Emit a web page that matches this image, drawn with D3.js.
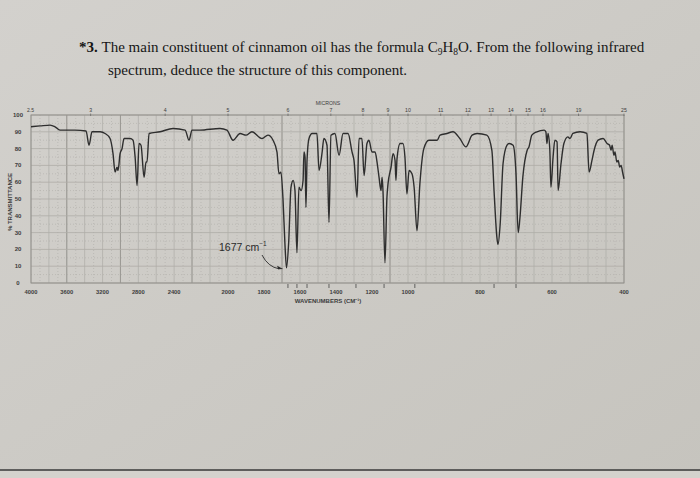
<!DOCTYPE html>
<html>
<head>
<meta charset="utf-8">
<script src="https://cdn.jsdelivr.net/npm/d3@7"></script>
<style>
  html, body { margin: 0; padding: 0; background: #cfcdc8; }
  svg { display: block; }
</style>
</head>
<body>
<div id="chart"></div>
<script>
// Spectrum: wavenumber (cm-1) and % transmittance
var wavenumbers = [4000,3899,3787,3732,3676,3508,3385,3351,3318,3228,3172,3116,3083,3060,3038,3027,3004,2982,2960,2893,2859,2836,2814,2792,2770,2736,2714,2703,2680,2557,2412,2277,2233,2200,2156,2044,2006,1972,1933,1900,1867,1811,1778,1750,1728,1717,1706,1694,1684,1675,1663,1650,1638,1628,1617,1606,1594,1583,1578,1572,1567,1561,1550,1533,1506,1494,1478,1467,1450,1439,1428,1406,1383,1361,1333,1311,1300,1283,1272,1256,1244,1228,1217,1200,1183,1172,1161,1150,1144,1139,1128,1117,1111,1094,1083,1072,1067,1061,1044,1028,1017,1006,997,989,983,975,967,956,942,919,911,892,875,856,839,822,808,781,767,761,753,750,744,736,725,719,708,700,694,689,681,669,664,656,642,622,617,614,611,606,603,597,592,586,583,575,567,556,550,542,522,503,497,489,483,472,458,447,440,436,433,428,425,420,416,412,408,404,400];
var transmittance = [93,93.5,94,93,91,91,90.5,82,90,90,89,86,77,66,69,67,77,80,86,86,85,75,58,83,82,63,72,72,89,90,92,91,85,91,91,92,91,85,89,88,90,86,88,85,78,65,66,49,24,9,24,57,61,55,18,57,55,61,78,75,45,73,86,89,89,67,77,86,82,36,88,89,76,89,89,78,73,51,86,86,64,83,85,78,78,72,63,55,63,55,12,51,59,69,77,73,61,74,83,83,75,53,67,65,57,31,59,80,85,85,88,89,90,86,81,88,89,88,79,55,27,23,35,71,82,83,82,65,30,39,63,79,81,88,90,91,90,83,89,79,57,75,85,84,55,71,83,87,86,89,90,89,66,73,79,85,86,83,82,79,82,76,78,72,73,69,70,66,62];

var xTickLabels = [4000,3600,3200,2800,2400,2000,1800,1600,1400,1200,1000,800,600,400];
var yTickLabels = [0,10,20,30,40,50,60,70,80,90,100];
var micronLabels = [3,4,5,6,7,8,9,10,11,12,13,14,15,16,19,25];
var bandMarks = [1667,1617,1561,1439,1289,1133,981,761,700];

var W = 700, H = 478;
var svg = d3.select("#chart").append("svg").attr("width", W).attr("height", H);

// paper
var defs = svg.append("defs");
var grad = defs.append("linearGradient").attr("id", "paper")
  .attr("x1", "0").attr("y1", "0").attr("x2", "1").attr("y2", "1");
grad.append("stop").attr("offset", "0").attr("stop-color", "#d3d1cd");
grad.append("stop").attr("offset", "1").attr("stop-color", "#c6c4be");
svg.append("rect").attr("width", W).attr("height", H).attr("fill", "url(#paper)");
svg.append("line").attr("x1", 0).attr("x2", W).attr("y1", 470).attr("y2", 470)
  .attr("stroke", "#3a3a3a").attr("stroke-width", 1.5);
svg.append("rect").attr("x", 0).attr("y", 471).attr("width", W).attr("height", 7).attr("fill", "#d4d2cd");

// title
var serif = "'Liberation Serif', 'Times New Roman', serif";
var t1 = svg.append("text").attr("x", 79).attr("y", 52).attr("font-family", serif)
  .attr("font-size", 15).attr("fill", "#161616");
t1.append("tspan").attr("font-weight", "bold").text("*3. ");
t1.append("tspan").text("The main constituent of cinnamon oil has the formula C");
t1.append("tspan").attr("font-size", 9.5).attr("dy", 3).text("9");
t1.append("tspan").attr("dy", -3).text("H");
t1.append("tspan").attr("font-size", 9.5).attr("dy", 3).text("8");
t1.append("tspan").attr("dy", -3).text("O. From the following infrared");
svg.append("text").attr("x", 108).attr("y", 75).attr("font-family", serif)
  .attr("font-size", 15).attr("fill", "#161616")
  .text("spectrum, deduce the structure of this component.");

// scales: chart paper changes scale at 2200 and 1000 cm-1
var x = d3.scaleLinear().domain([4000, 2200, 1000, 400]).range([31, 192, 408, 624]);
var y = d3.scaleLinear().domain([0, 100]).range([283, 115]);

var g = svg.append("g");
var gridCol = "#aeaca7";

// vertical grid lines
var vMajor = d3.range(4000, 2200, -200).concat(d3.range(2200, 1000, -100)).concat(d3.range(1000, 399, -50));
var vMinor = d3.range(3900, 2200, -200).concat(d3.range(2150, 1000, -100)).concat(d3.range(975, 400, -50));
g.selectAll(".vmin").data(vMinor).enter().append("line")
  .attr("x1", function(d) { return x(d); }).attr("x2", function(d) { return x(d); })
  .attr("y1", y(100)).attr("y2", y(0))
  .attr("stroke", gridCol).attr("stroke-width", 0.6).attr("stroke-dasharray", "1,2");
g.selectAll(".vmaj").data(vMajor).enter().append("line")
  .attr("x1", function(d) { return x(d); }).attr("x2", function(d) { return x(d); })
  .attr("y1", y(100)).attr("y2", y(0))
  .attr("stroke", gridCol).attr("stroke-width", 0.7);
// heavier lines seen on the paper
g.selectAll(".vdark").data([3600, 3000, 2200, 1700, 1100, 700]).enter().append("line")
  .attr("x1", function(d) { return x(d); }).attr("x2", function(d) { return x(d); })
  .attr("y1", y(100)).attr("y2", y(0))
  .attr("stroke", "#93918c").attr("stroke-width", 0.8);

// horizontal grid lines
g.selectAll(".hmin").data(d3.range(5, 100, 10)).enter().append("line")
  .attr("x1", x(4000)).attr("x2", x(400))
  .attr("y1", function(d) { return y(d); }).attr("y2", function(d) { return y(d); })
  .attr("stroke", gridCol).attr("stroke-width", 0.6).attr("stroke-dasharray", "1,2");
g.selectAll(".hmaj").data(yTickLabels).enter().append("line")
  .attr("x1", x(4000)).attr("x2", x(400))
  .attr("y1", function(d) { return y(d); }).attr("y2", function(d) { return y(d); })
  .attr("stroke", gridCol).attr("stroke-width", 0.8);
g.append("rect").attr("x", x(4000)).attr("y", y(100))
  .attr("width", x(400) - x(4000)).attr("height", y(0) - y(100))
  .attr("fill", "none").attr("stroke", "#8f8d88").attr("stroke-width", 0.9);

var sans = "'Liberation Sans', Arial, sans-serif";
var labCol = "#3c3c3c";

// y tick labels
g.selectAll(".ylab").data(yTickLabels).enter().append("text")
  .attr("x", function(d) { return d == 100 ? 18 : 18; })
  .attr("y", function(d) { return y(d) + 2; })
  .attr("text-anchor", "middle").attr("font-family", sans).attr("font-size", 6)
  .attr("font-weight", "bold").attr("fill", labCol).text(function(d) { return d; });
g.append("text").attr("transform", "translate(12,202) rotate(-90)")
  .attr("text-anchor", "middle").attr("font-family", sans).attr("font-size", 6)
  .attr("font-weight", "bold").attr("fill", labCol).text("% TRANSMITTANCE");

// x tick labels
g.selectAll(".xlab").data(xTickLabels).enter().append("text")
  .attr("x", function(d) { return x(d); }).attr("y", 294)
  .attr("text-anchor", "middle").attr("font-family", sans).attr("font-size", 5.8)
  .attr("font-weight", "bold").attr("fill", labCol).text(function(d) { return d; });
g.append("text").attr("x", 328).attr("y", 303).attr("text-anchor", "middle")
  .attr("font-family", sans).attr("font-size", 6).attr("font-weight", "bold")
  .attr("fill", labCol).text("WAVENUMBERS (CM\u207B\u00B9)");

// band marks under the frame
g.selectAll(".band").data(bandMarks).enter().append("line")
  .attr("x1", function(d) { return x(d); }).attr("x2", function(d) { return x(d); })
  .attr("y1", 284).attr("y2", 288).attr("stroke", "#444").attr("stroke-width", 0.8);

// micron scale at top
g.append("text").attr("x", 27).attr("y", 112).attr("font-family", sans).attr("font-size", 5)
  .attr("fill", labCol).text("2.5");
g.selectAll(".mic").data(micronLabels).enter().append("text")
  .attr("x", function(d) { return x(10000 / d); }).attr("y", 112)
  .attr("text-anchor", "middle").attr("font-family", sans).attr("font-size", 5.2)
  .attr("fill", labCol).text(function(d) { return d; });
g.selectAll(".mict").data(micronLabels).enter().append("line")
  .attr("x1", function(d) { return x(10000 / d); }).attr("x2", function(d) { return x(10000 / d); })
  .attr("y1", 113.5).attr("y2", 116).attr("stroke", "#555").attr("stroke-width", 0.6);
g.append("text").attr("x", 328).attr("y", 105).attr("text-anchor", "middle")
  .attr("font-family", sans).attr("font-size", 5.2).attr("fill", labCol).text("MICRONS");

// spectrum
var pts = wavenumbers.map(function(w, i) { return [w, transmittance[i]]; });
var line = d3.line()
  .x(function(d) { return x(d[0]); })
  .y(function(d) { return y(d[1]); })
  .curve(d3.curveMonotoneX);
g.append("path").datum(pts).attr("d", line)
  .attr("fill", "none").attr("stroke", "#2e2e2e").attr("stroke-width", 1.4)
  .attr("stroke-linejoin", "round");

// 1677 annotation
var ann = g.append("text").attr("x", 219).attr("y", 251).attr("font-family", sans)
  .attr("font-size", 10.5).attr("fill", "#2a2a2a");
ann.append("tspan").text("1677 cm");
ann.append("tspan").attr("font-size", 6.5).attr("dy", -5).text("\u22121");
var ax0 = 262, ay0 = 255, ax1 = x(1677) - 3, ay1 = y(9) + 1;
g.append("path").attr("d", "M" + ax0 + "," + ay0 + " Q" + (ax0 + 6) + "," + (ay1 - 2) + " " + (ax1 - 4) + "," + ay1)
  .attr("fill", "none").attr("stroke", "#2a2a2a").attr("stroke-width", 0.9);
g.append("path").attr("d", "M" + ax1 + "," + ay1 + " l-6,-3.2 l1,3.6 z").attr("fill", "#2a2a2a");
</script>
</body>
</html>
